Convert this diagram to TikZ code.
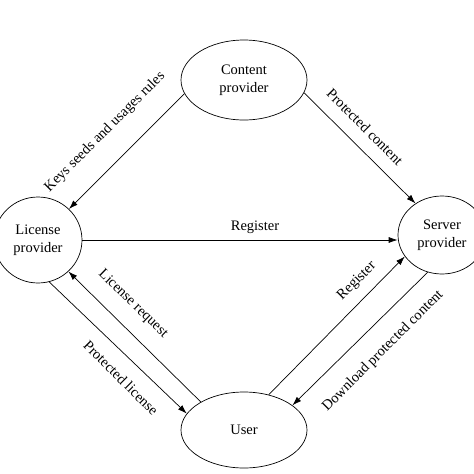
\documentclass[tikz,border=0pt]{standalone}
\usepackage{fontspec}
\setmainfont{Liberation Serif}
\usetikzlibrary{shapes.geometric, arrows.meta}

\begin{document}
\begin{tikzpicture}
    [
        x=1pt, y=-1pt,
        font=\fontsize{14.5}{18}\selectfont,
        line width=0.7pt,
        party/.style={
            draw, ellipse, inner sep=0pt, align=center
        },
        flow/.style={-{Latex[length=9pt,width=6pt]}},
        tag/.style={inner sep=1pt}
    ]

\useasboundingbox (0,0) rectangle (474,474);

% Nodes
\node (content) [
        party, minimum width=126pt, minimum height=80pt
    ] at (244,80) {Content\\provider};

\node (license) [
        party, minimum width=88pt, minimum height=86pt
    ] at (38,240) {License\\provider};

\node (server) [
        party, minimum width=88pt, minimum height=78pt
    ] at (442,235) {Server\\provider};

\node (user) [
        party, minimum width=126pt, minimum height=76pt
    ] at (244,430) {User};

% Connectors
\draw [flow] (content.193) -- (license.45);
\draw [flow] (content.348) -- (server.130);
\draw [flow] (license.east) -- (license.east -| server.west);
\draw [flow] (user.147) -- (license.314);
\draw [flow] (license.285) -- (user.164);
\draw [flow] (user.55) -- (server.210);
\draw [flow] (server.249) -- (user.27);

% Labels
\node (keys-tag) [tag, rotate=45] at (105,132) {Keys seeds and usages rules};
\node (content-tag) [tag, rotate=-45] at (365,127) {Protected content};
\node (register-tag) [tag] at (255,227) {Register};
\node (request-tag) [tag, rotate=-44] at (133,304) {License request};
\node (license-tag) [tag, rotate=-45] at (121,378) {Protected license};
\node (join-tag) [tag, rotate=45] at (357,281) {Register};
\node (download-tag) [tag, rotate=45] at (383,351) {Download protected content};

\end{tikzpicture}
\end{document}
